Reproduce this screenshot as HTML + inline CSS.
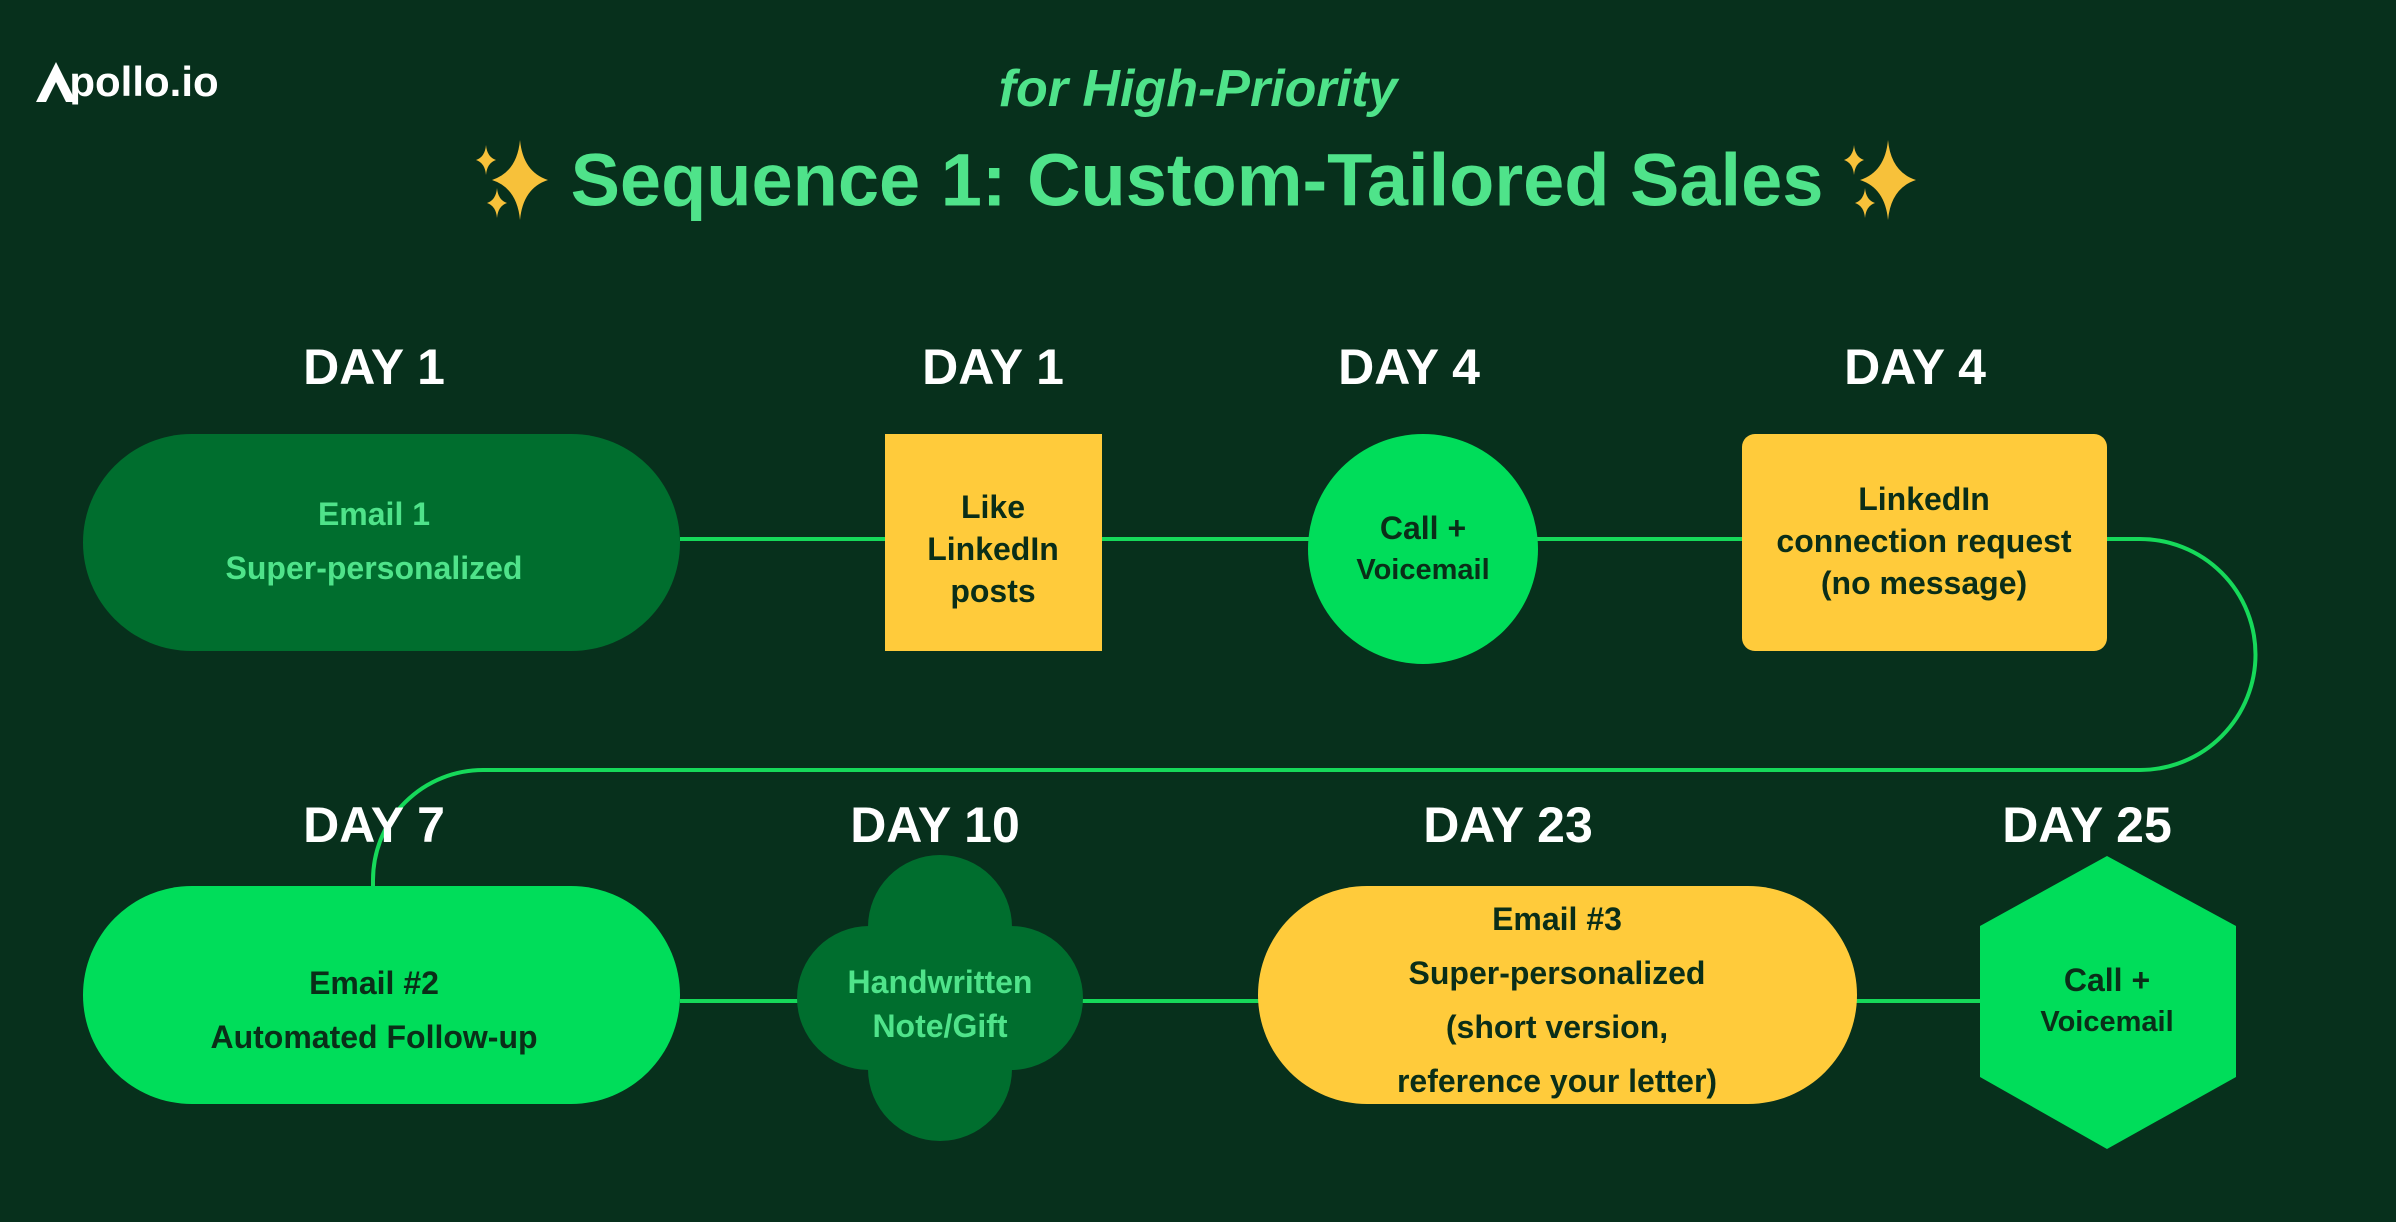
<!DOCTYPE html>
<html><head><meta charset="utf-8"><style>
html,body{margin:0;padding:0;background:#07301c;}
#c{position:relative;width:2396px;height:1222px;overflow:hidden;background:#07301c;font-family:"Liberation Sans",sans-serif;}
.t{position:absolute;text-align:center;font-weight:bold;white-space:nowrap;transform:translate(-50%,-50%);}
.day{color:#fff;font-size:50px;}
.n{font-size:32px;line-height:54px;color:#0a2e18;}
</style></head><body><div id="c">
<svg width="2396" height="1222" style="position:absolute;left:0;top:0">
<g fill="none" stroke="#16d95a" stroke-width="4">
<line x1="680" y1="539" x2="1742" y2="539"/>
<path d="M2107 539 H2140 A115.5 115.5 0 0 1 2140 770 H483 A110 110 0 0 0 373 880 V886"/>
<line x1="680" y1="1001" x2="2000" y2="1001"/>
</g>
<rect x="83" y="434" width="597" height="217" rx="108.5" fill="#006e2e"/>
<rect x="885" y="434" width="217" height="217" fill="#ffcb3b"/>
<circle cx="1423" cy="549" r="115" fill="#00dd5a"/>
<rect x="1742" y="434" width="365" height="217" rx="13" fill="#ffcb3b"/>
<rect x="83" y="886" width="597" height="218" rx="109" fill="#00dd5a"/>
<g fill="#006e2e">
<circle cx="940" cy="927" r="72"/><circle cx="940" cy="1069" r="72"/>
<circle cx="869" cy="998" r="72"/><circle cx="1011" cy="998" r="72"/>
<rect x="869" y="927" width="142" height="142"/>
</g>
<rect x="1258" y="886" width="599" height="218" rx="109" fill="#ffcb3b"/>
<polygon points="2107,856 2236,926 2236,1077 2107,1149 1980,1077 1980,926" fill="#00dd5a"/>
<g fill="#f7c13a">
<path d="M520 140 Q523 172 548 180 Q523 188 520 220 Q517 188 492 180 Q517 172 520 140Z"/>
<path d="M486 145 Q487 157 496 160 Q487 163 486 175 Q485 163 476 160 Q485 157 486 145Z"/>
<path d="M497 188 Q498 200 507 203 Q498 206 497 218 Q496 206 487 203 Q496 200 497 188Z"/>
<path d="M1888 140 Q1891 172 1916 180 Q1891 188 1888 220 Q1885 188 1860 180 Q1885 172 1888 140Z"/>
<path d="M1854 145 Q1855 157 1864 160 Q1855 163 1854 175 Q1853 163 1844 160 Q1853 157 1854 145Z"/>
<path d="M1865 188 Q1866 200 1875 203 Q1866 206 1865 218 Q1864 206 1855 203 Q1864 200 1865 188Z"/>
</g>
<path d="M36 102 L56 62 L76 102 L66 102 L56 82 L46 102Z" fill="#fff"/>
</svg>
<div class="t" style="left:144px;top:82px;color:#fff;font-size:42px;">pollo.io</div>
<div class="t" style="left:1198px;top:89px;color:#4fe38a;font-size:52px;font-style:italic;">for High-Priority</div>
<div class="t" style="left:1197px;top:180px;color:#4fe38a;font-size:74px;">Sequence 1: Custom-Tailored Sales</div>

<div class="t day" style="left:374px;top:367px">DAY 1</div>
<div class="t day" style="left:993px;top:367px">DAY 1</div>
<div class="t day" style="left:1409px;top:367px">DAY 4</div>
<div class="t day" style="left:1915px;top:367px">DAY 4</div>
<div class="t day" style="left:374px;top:825px">DAY 7</div>
<div class="t day" style="left:935px;top:825px">DAY 10</div>
<div class="t day" style="left:1508px;top:825px">DAY 23</div>
<div class="t day" style="left:2087px;top:825px">DAY 25</div>

<div class="t n" style="left:374px;top:541px;color:#4fe38a">Email 1<br>Super-personalized</div>
<div class="t n" style="left:993px;top:549px;line-height:42px">Like<br>LinkedIn<br>posts</div>
<div class="t n" style="left:1423px;top:549px;line-height:40px">Call +<br><span style="font-size:29px">Voicemail</span></div>
<div class="t n" style="left:1924px;top:541px;line-height:42px">LinkedIn<br>connection request<br>(no message)</div>
<div class="t n" style="left:374px;top:1010px">Email #2<br>Automated Follow-up</div>
<div class="t n" style="left:940px;top:1004px;line-height:44px;color:#4fe38a">Handwritten<br>Note/Gift</div>
<div class="t n" style="left:1557px;top:1000px">Email #3<br>Super-personalized<br>(short version,<br>reference your letter)</div>
<div class="t n" style="left:2107px;top:1001px;line-height:40px">Call +<br><span style="font-size:29px">Voicemail</span></div>
</div></body></html>
